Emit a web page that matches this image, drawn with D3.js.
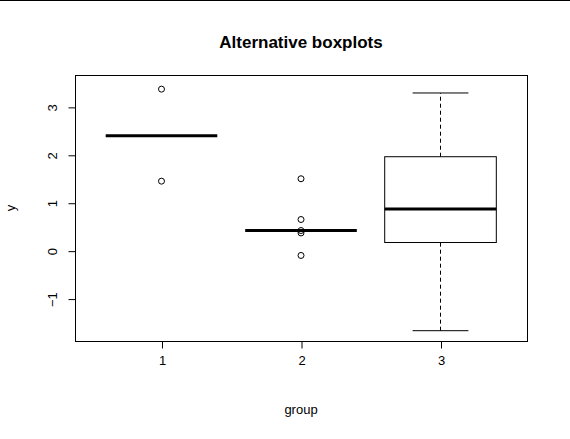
<!DOCTYPE html>
<html lang="en">
<head>
<meta charset="utf-8">
<title>Alternative boxplots</title>
<script src="https://cdn.jsdelivr.net/npm/d3@7"></script>
<style>
  body { margin: 0; background: #fff; }
  svg { display: block; font-family: "Liberation Sans", Arial, sans-serif; }
</style>
</head>
<body>
<script>
// single-point groups drawn as points with a median line
var groups = [1, 2, 3];
var pointsG1 = [3.37, 1.45];
var medianG1 = 2.40;
var pointsG2 = [1.50, 0.65, 0.42, 0.37, -0.10];
var medianG2 = 0.42;
// group 3 box: [lowWhisker, q1, median, q3, highWhisker]
var boxG3 = [-1.67, 0.17, 0.87, 1.96, 3.29];
var yTicks = [-1, 0, 1, 2, 3];

var svg = d3.select("body").append("svg")
  .attr("width", 570).attr("height", 439);

svg.append("line").attr("x1", 0).attr("x2", 570).attr("y1", 0.5).attr("y2", 0.5)
  .attr("stroke", "#000");

var pLeft = 75, pRight = 527, pTop = 75, pBottom = 341;
var x = d3.scaleLinear().domain([0.38, 3.62]).range([pLeft, pRight]);
var y = d3.scaleLinear().domain([-1.885, 3.665]).range([pBottom, pTop]);

svg.append("rect").attr("x", pLeft + 0.5).attr("y", pTop + 0.5)
  .attr("width", pRight - pLeft).attr("height", pBottom - pTop)
  .attr("fill", "none").attr("stroke", "#000");

var yAxis = svg.append("g").attr("transform", "translate(" + (pLeft + 0.5) + ",0.5)")
  .call(d3.axisLeft(y).tickValues(yTicks).tickSize(7).tickFormat(d3.format("d")));
yAxis.select(".domain").attr("d", "M0," + y(-1) + "V" + y(3)).attr("stroke", "#000");
yAxis.selectAll(".tick text").attr("transform", "rotate(-90)")
  .attr("x", 0).attr("y", -19).attr("dy", "0em")
  .attr("text-anchor", "middle").attr("font-size", 13).attr("fill", "#000")
  .attr("font-family", "Liberation Sans, Arial, sans-serif");

var xAxis = svg.append("g").attr("transform", "translate(0.5," + (pBottom + 0.5) + ")")
  .call(d3.axisBottom(x).tickValues(groups).tickSize(7).tickFormat(d3.format("d")));
xAxis.select(".domain").attr("d", "M" + x(1) + ",0H" + x(3)).attr("stroke", "#000");
xAxis.selectAll(".tick text").attr("y", 14).attr("dy", "0.71em")
  .attr("font-size", 13).attr("fill", "#000")
  .attr("font-family", "Liberation Sans, Arial, sans-serif");

svg.append("text").attr("x", (pLeft + pRight) / 2).attr("y", 48)
  .attr("text-anchor", "middle").attr("font-size", 17).attr("font-weight", "bold")
  .text("Alternative boxplots");
svg.append("text").attr("x", (pLeft + pRight) / 2).attr("y", 414)
  .attr("text-anchor", "middle").attr("font-size", 13).text("group");
svg.append("text").attr("transform", "translate(15," + ((pTop + pBottom) / 2) + ") rotate(-90)")
  .attr("text-anchor", "middle").attr("font-size", 13).text("y");

var hw = 0.4;
function medLine(g, v) {
  svg.append("line").attr("x1", x(g - hw)).attr("x2", x(g + hw))
    .attr("y1", y(v)).attr("y2", y(v)).attr("stroke", "#000").attr("stroke-width", 3);
}
function pts(g, arr) {
  svg.selectAll(null).data(arr).enter().append("circle")
    .attr("cx", x(g)).attr("cy", function(d) { return y(d); }).attr("r", 3)
    .attr("fill", "none").attr("stroke", "#000");
}
medLine(1, medianG1); pts(1, pointsG1);
medLine(2, medianG2); pts(2, pointsG2);

var g3 = 3, b = boxG3;
svg.append("line").attr("x1", x(g3)).attr("x2", x(g3)).attr("y1", y(b[0])).attr("y2", y(b[1]))
  .attr("stroke", "#000").attr("stroke-dasharray", "4,3");
svg.append("line").attr("x1", x(g3)).attr("x2", x(g3)).attr("y1", y(b[3])).attr("y2", y(b[4]))
  .attr("stroke", "#000").attr("stroke-dasharray", "4,3");
[b[0], b[4]].forEach(function(v) {
  svg.append("line").attr("x1", x(g3 - hw / 2)).attr("x2", x(g3 + hw / 2))
    .attr("y1", y(v)).attr("y2", y(v)).attr("stroke", "#000");
});
svg.append("rect").attr("x", x(g3 - hw)).attr("y", y(b[3]))
  .attr("width", x(g3 + hw) - x(g3 - hw)).attr("height", y(b[1]) - y(b[3]))
  .attr("fill", "#fff").attr("stroke", "#000");
medLine(g3, b[2]);
</script>
</body>
</html>
